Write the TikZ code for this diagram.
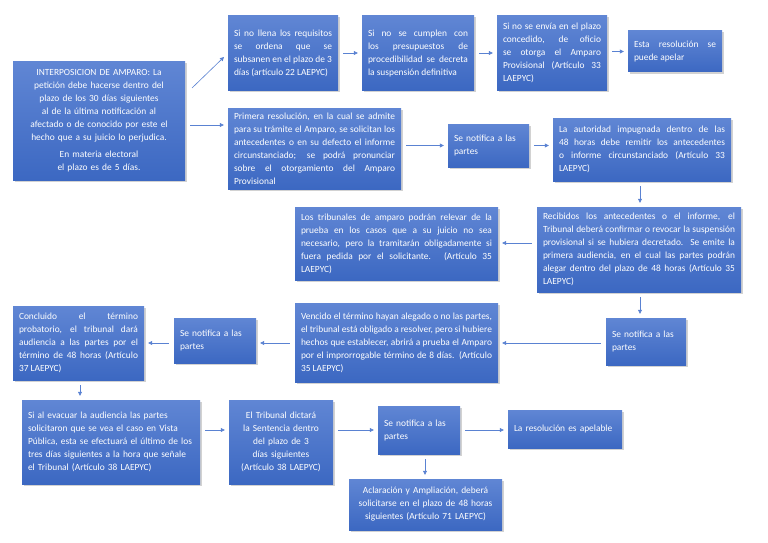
\documentclass[tikz,border=0pt]{standalone}
\usepackage{fontspec}
\setmainfont{Carlito}
\usetikzlibrary{shadows,arrows.meta}
\hyphenpenalty=10000
\exhyphenpenalty=10000
\newcommand{\B}[7]{%
\node[box,align=#6,minimum width=#4pt,minimum height=#5pt,text width=#4pt-12pt] (#1) at ({#2+#4/2},{-(#3+#5/2)}) {#7};}
\tikzset{
 box/.style={draw=none,top color=blue1,bottom color=blue2,text=white,inner sep=4pt,
   font=\fontsize{9.4}{13}\selectfont,drop shadow={opacity=0.35,shadow xshift=1.5pt,shadow yshift=-1.5pt}},
 arr/.style={-{Triangle[length=4pt,width=4pt]},draw=arrc,line width=0.6pt,shorten <=5pt,shorten >=4pt}
}
\definecolor{blue1}{HTML}{6086D4}
\definecolor{blue2}{HTML}{3C68C2}
\definecolor{arrc}{HTML}{5A82D2}
\begin{document}
\begin{tikzpicture}[x=1pt,y=1pt]
\useasboundingbox[fill=white] (0,0) rectangle (768,-543);
\B{a}{13}{62}{172}{118}{center}{INTERPOSICION DE AMPARO: La petición debe hacerse dentro del plazo de los 30 días siguientes al de la última notificación al afectado o de conocido por este el hecho que a su juicio lo perjudica.\\[4pt] En materia electoral el plazo es de 5 días.}
\B{b}{228}{16}{110}{74}{justify}{Si no llena los requisitos se ordena que se subsanen en el plazo de 3 días (artículo 22 LAEPYC)}
\B{c}{362}{16}{112}{74}{justify}{Si no se cumplen con los presupuestos de procedibilidad se decreta la suspensión definitiva}
\B{d}{497}{16}{110}{74}{justify}{Si no se envía en el plazo concedido, de oficio se otorga el Amparo Provisional (Artículo 33 LAEPYC)}
\B{e}{628}{31}{94}{41}{justify}{Esta resolución se puede apelar}
\B{f}{228}{108}{173}{81}{justify}{Primera resolución, en la cual se admite para su trámite el Amparo, se solicitan los antecedentes o en su defecto el informe circunstanciado; se podrá pronunciar sobre el otorgamiento del Amparo Provisional}
\B{g}{448}{124}{81}{43}{left}{Se notifica a las partes}
\B{h}{553}{118}{178}{63}{justify}{La autoridad impugnada dentro de las 48 horas debe remitir los antecedentes o informe circunstanciado (Artículo 33 LAEPYC)}
\B{i}{537}{207}{204}{85}{justify}{Recibidos los antecedentes o el informe, el Tribunal deberá confirmar o revocar la suspensión provisional si se hubiera decretado. Se emite la primera audiencia, en el cual las partes podrán alegar dentro del plazo de 48 horas (Artículo 35 LAEPYC)}
\B{j}{295}{207}{203}{73}{justify}{Los tribunales de amparo podrán relevar de la prueba en los casos que a su juicio no sea necesario, pero la tramitarán obligadamente si fuera pedida por el solicitante. (Artículo 35 LAEPYC)}
\B{k}{606}{318}{80}{47}{left}{Se notifica a las partes}
\B{l}{295}{303}{203}{79}{justify}{Vencido el término hayan alegado o no las partes, el tribunal está obligado a resolver, pero si hubiere hechos que establecer, abrirá a prueba el Amparo por el improrrogable término de 8 días. (Artículo 35 LAEPYC)}
\B{m}{174}{318}{82}{45}{left}{Se notifica a las partes}
\B{n}{13}{306}{131}{74}{justify}{Concluido el término probatorio, el tribunal dará audiencia a las partes por el término de 48 horas (Artículo 37 LAEPYC)}
\B{o}{22}{400}{178}{84}{left}{Si al evacuar la audiencia las partes solicitaron que se vea el caso en Vista Pública, esta se efectuará el último de los tres días siguientes a la hora que señale el Tribunal (Artículo 38 LAEPYC)}
\B{p}{229}{400}{104}{84}{center}{El Tribunal dictará la Sentencia dentro del plazo de 3 días siguientes (Artículo 38 LAEPYC)}
\B{q}{378}{406}{82}{48}{left}{Se notifica a las partes}
\B{r}{508}{410}{114}{38}{left}{La resolución es apelable}
\B{s}{349}{479}{153}{51}{center}{Aclaración y Ampliación, deberá solicitarse en el plazo de 48 horas siguientes (Artículo 71 LAEPYC)}
\coordinate (a1) at (192,-88);
\coordinate (b1) at (224,-57);
\draw[arr,shorten <=0pt,shorten >=0pt] (a1) -- (b1);
\draw[arr] (a.east |- 0,-125) -- (f.west |- 0,-125);
\draw[arr] (b) -- (c);
\draw[arr] (c) -- (d);
\draw[arr] (d.east |- e) -- (e);
\draw[arr] (f.east |- g) -- (g);
\draw[arr] (g) -- (h.west |- g);
\draw[arr] (h.south -| 640,0) -- (i.north -| 640,0);
\draw[arr] (i.west |- 0,-243) -- (j.east |- 0,-243);
\draw[arr] (i.south -| 640,0) -- (k.north -| 640,0);
\draw[arr] (k.west |- 0,-343) -- (l.east |- 0,-343);
\draw[arr] (l.west |- 0,-343) -- (m.east |- 0,-343);
\draw[arr] (m.west |- 0,-343) -- (n.east |- 0,-343);
\draw[arr] (n.south -| 80,0) -- (o.north -| 80,0);
\draw[arr] (o.east |- 0,-430) -- (p.west |- 0,-430);
\draw[arr] (p.east |- 0,-430) -- (q.west |- 0,-430);
\draw[arr] (q.east |- 0,-430) -- (r.west |- 0,-430);
\draw[arr] (q.south -| 425,0) -- (s.north -| 425,0);
\end{tikzpicture}
\end{document}
